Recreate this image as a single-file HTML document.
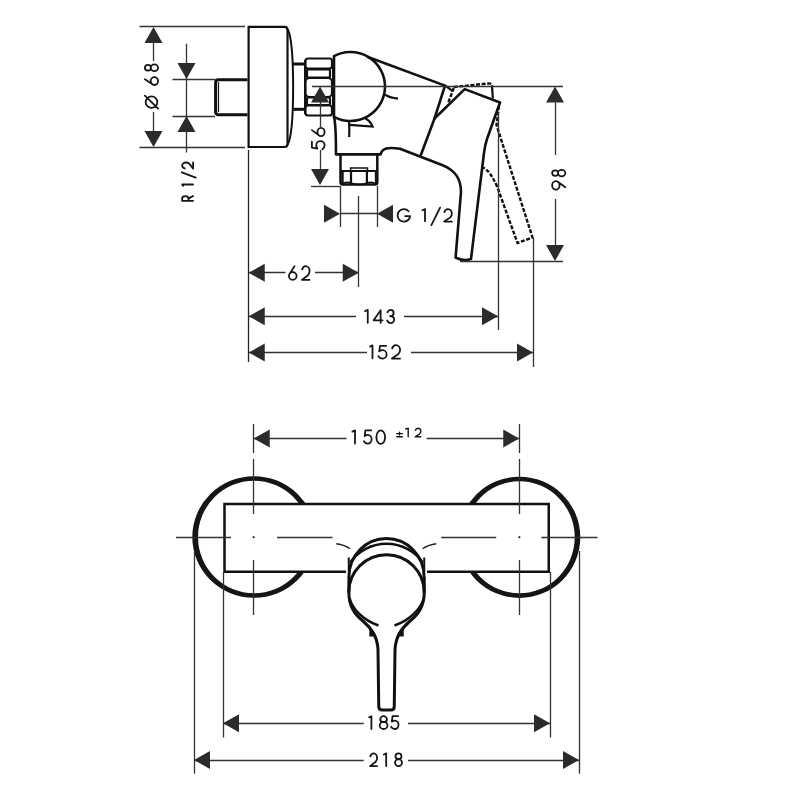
<!DOCTYPE html>
<html><head><meta charset="utf-8"><style>
html,body{margin:0;padding:0;background:#fff;}
svg{display:block;}
text{font-family:"Liberation Sans",sans-serif;}
</style></head><body>
<svg width="800" height="800" viewBox="0 0 800 800">
<rect width="800" height="800" fill="#fff"/>
<line x1="139.5" y1="26.5" x2="245" y2="26.5" stroke="#333" stroke-width="1.3" fill="none"/>
<line x1="139.5" y1="147.5" x2="245" y2="147.5" stroke="#333" stroke-width="1.3" fill="none"/>
<line x1="153.5" y1="43" x2="153.5" y2="61" stroke="#333" stroke-width="1.3" fill="none"/>
<line x1="153.5" y1="112" x2="153.5" y2="131" stroke="#333" stroke-width="1.3" fill="none"/>
<polygon points="153.50,27.00 144.50,43.00 162.50,43.00" fill="#2b2b2b"/>
<polygon points="153.50,147.00 144.50,131.00 162.50,131.00" fill="#2b2b2b"/>
<path d="M151.5,96.47C154.71,96.47 157.31,99.02 157.31,102.15C157.31,105.28 154.71,107.83 151.5,107.83C148.29,107.83 145.69,105.28 145.69,102.15C145.69,99.02 148.29,96.47 151.5,96.47M144.9,95.7L158.1,108.6M154.4,77.2C156.45,77.2 158.1,78.95 158.1,81.1C158.1,83.25 156.45,85 154.4,85C152.36,85 150.71,83.25 150.71,81.1C150.71,78.95 152.36,77.2 154.4,77.2M144.9,79.31L152.82,84.61M147.94,64.87C149.61,64.87 150.97,66.16 150.97,67.75C150.97,69.34 149.61,70.63 147.94,70.63C146.26,70.63 144.9,69.34 144.9,67.75C144.9,66.16 146.26,64.87 147.94,64.87M154.4,64.4C156.45,64.4 158.1,65.9 158.1,67.75C158.1,69.6 156.45,71.1 154.4,71.1C152.36,71.1 150.71,69.6 150.71,67.75C150.71,65.9 152.36,64.4 154.4,64.4" stroke="#161616" fill="none" stroke-linecap="round" stroke-linejoin="round" stroke-width="1.8"/>
<line x1="172.5" y1="79.5" x2="215" y2="79.5" stroke="#333" stroke-width="1.3" fill="none"/>
<line x1="172.5" y1="116.5" x2="215" y2="116.5" stroke="#333" stroke-width="1.3" fill="none"/>
<line x1="186.5" y1="43.75" x2="186.5" y2="152.5" stroke="#333" stroke-width="1.3" fill="none"/>
<polygon points="186.50,79.00 177.50,63.00 195.50,63.00" fill="#2b2b2b"/>
<polygon points="186.50,116.00 177.50,132.00 195.50,132.00" fill="#2b2b2b"/>
<path d="M193.1,200.85L182.15,200.85L182.15,198.62C182.15,196.99 183.68,196.15 185.44,196.15C187.19,196.15 188.5,196.99 188.5,198.62L188.5,200.85M188.5,198.62L193.1,195.9M183.14,185.85L182.15,184.5L193.1,184.5M181.8,172.3L195.7,177.6M184.78,168.42C182.92,167.87 182.15,166.77 182.15,165.55C182.15,163.84 183.9,162.5 186.09,162.5C187.41,162.5 188.39,162.99 189.38,163.72L193.1,168.6L193.1,162.5" stroke="#161616" fill="none" stroke-linecap="round" stroke-linejoin="round" stroke-width="1.8"/>
<path d="M248.6,26.8 H284.5 Q287.5,26.8 287.5,30 V144 Q287.5,147 284.5,147 H248.6 Z" stroke="#111" stroke-width="2.2" fill="none"/>
<path d="M287.5,29 C295,42 295,132 287.5,145" stroke="#111" stroke-width="2" fill="none"/>
<path d="M247.5,79.7 H218.5 Q215.6,79.7 215.6,82.6 V111.8 Q215.6,114.7 218.5,114.7 H247.5" stroke="#111" stroke-width="3" fill="none"/>
<line x1="218.5" y1="82" x2="218.5" y2="112" stroke="#111" stroke-width="1.2"/>
<line x1="248.5" y1="150" x2="248.5" y2="362" stroke="#222" stroke-width="1.3"/>
<line x1="293" y1="64" x2="305" y2="64" stroke="#111" stroke-width="3"/>
<line x1="293" y1="109.3" x2="305" y2="109.3" stroke="#111" stroke-width="3"/>
<rect x="305.5" y="58.5" width="26.5" height="10" rx="2.5" stroke="#111" stroke-width="2.2" fill="none"/>
<rect x="307" y="69.5" width="23" height="8" rx="1" stroke="#111" stroke-width="2.2" fill="none"/>
<rect x="305.5" y="78" width="26.5" height="19" rx="4" stroke="#111" stroke-width="2.2" fill="none"/>
<rect x="307" y="97.5" width="23" height="7.5" rx="1" stroke="#111" stroke-width="2.2" fill="none"/>
<rect x="305.5" y="105.5" width="26.5" height="10" rx="2.5" stroke="#111" stroke-width="2.2" fill="none"/>
<line x1="305" y1="60" x2="305" y2="114" stroke="#111" stroke-width="2"/>
<line x1="333" y1="60" x2="333" y2="114" stroke="#111" stroke-width="2"/>
<path d="M334,56.2 A34.5,34.5 0 1 1 334,116.8 Z" stroke="#111" stroke-width="2.6" fill="none" stroke-linecap="round" stroke-linejoin="round"/>
<path d="M368,57 L445,85.6 L434.5,118.5 L420.5,156" stroke="#111" stroke-width="2.6" fill="none" stroke-linecap="round" stroke-linejoin="round"/>
<path d="M385.3,94.6 Q389,97.6 398,98.6" stroke="#111" stroke-width="2.2" fill="none"/>
<path d="M349.4,124.8 L372.6,126.6 Q370.5,121 365.2,118.3" stroke="#111" stroke-width="2.2" fill="none"/>
<path d="M349,121.5 Q349.6,129 349.2,137" stroke="#111" stroke-width="2.2" fill="none"/>
<path d="M334,116.8 Q336,125 336,154.4 H380.6 C382,148 388,147 400,148.75 L442,165 C455,170 461,178 461,192 L455.6,257.5 Q463,261.5 471,259 L484,153 Q485,145 487,139 L500,102.5 L464.7,89.1 L434.5,118.5" stroke="#111" stroke-width="2.6" fill="none" stroke-linecap="round" stroke-linejoin="round"/>
<path d="M453.75,87 L489,83.4 Q492,83.4 492,86" stroke="#111" stroke-width="2.4" fill="none" stroke-dasharray="4,1.6"/>
<line x1="492" y1="86" x2="492.8" y2="98.5" stroke="#111" stroke-width="2.2"/>
<line x1="445" y1="85.4" x2="452.5" y2="91" stroke="#111" stroke-width="2.2"/>
<path d="M453.8,88 L448.1,103" stroke="#111" stroke-width="2.4" fill="none" stroke-dasharray="4,1.6"/>
<path d="M499,106 L496.5,125 L532.5,237.5 L517.5,243 L497.5,187.5 C492,175 488,170 483,167.5" stroke="#111" stroke-width="2.4" fill="none" stroke-dasharray="4,1.6"/>
<path d="M340.5,155 V182 Q340.5,184.6 343,184.6 H375 Q377.3,184.6 377.3,182 V155" stroke="#111" stroke-width="2.5" fill="none"/>
<line x1="340" y1="171" x2="378" y2="171" stroke="#111" stroke-width="2"/>
<rect x="350.6" y="168" width="16.9" height="3" fill="none" stroke="#111" stroke-width="1.5"/>
<line x1="342.6" y1="171" x2="342.6" y2="184" stroke="#111" stroke-width="2.2"/>
<line x1="351" y1="171" x2="351" y2="184" stroke="#111" stroke-width="2.2"/>
<line x1="366.9" y1="171" x2="366.9" y2="184" stroke="#111" stroke-width="2.2"/>
<line x1="375.5" y1="171" x2="375.5" y2="184" stroke="#111" stroke-width="1.3"/>
<path d="M343,183.5 Q347,181.5 351,183 Q359,186.5 367,183 Q371,181.5 375,183.5" stroke="#111" stroke-width="1.6" fill="none"/>
<line x1="312" y1="86.5" x2="563" y2="86.5" stroke="#333" stroke-width="1.3" fill="none"/>
<line x1="311" y1="186.5" x2="340" y2="186.5" stroke="#333" stroke-width="1.3" fill="none"/>
<line x1="460" y1="261.5" x2="563" y2="261.5" stroke="#333" stroke-width="1.3" fill="none"/>
<line x1="340.5" y1="186" x2="340.5" y2="227" stroke="#333" stroke-width="1.3" fill="none"/>
<line x1="377.5" y1="186" x2="377.5" y2="227" stroke="#333" stroke-width="1.3" fill="none"/>
<line x1="358.5" y1="196" x2="358.5" y2="287" stroke="#333" stroke-width="1.3" fill="none"/>
<line x1="498.5" y1="113" x2="498.5" y2="330" stroke="#333" stroke-width="1.3" fill="none"/>
<line x1="533.5" y1="238" x2="533.5" y2="367" stroke="#333" stroke-width="1.3" fill="none"/>
<line x1="320.5" y1="102" x2="320.5" y2="127" stroke="#333" stroke-width="1.3" fill="none"/>
<line x1="320.5" y1="150" x2="320.5" y2="170" stroke="#333" stroke-width="1.3" fill="none"/>
<polygon points="320.00,86.50 311.00,102.50 329.00,102.50" fill="#2b2b2b"/>
<polygon points="320.00,185.00 311.00,169.00 329.00,169.00" fill="#2b2b2b"/>
<path d="M311.9,141.64L311.9,147.71L317.36,148.53C316.6,147.55 316.22,146.4 316.22,145.25C316.22,142.79 318.38,141.15 320.41,141.15C322.82,141.15 324.6,142.95 324.6,145.25C324.6,147.05 323.58,148.53 322.31,149.35M321.04,127.9C323.01,127.9 324.6,129.74 324.6,132C324.6,134.26 323.01,136.1 321.04,136.1C319.08,136.1 317.49,134.26 317.49,132C317.49,129.74 319.08,127.9 321.04,127.9M311.9,130.11L319.52,135.69" stroke="#161616" fill="none" stroke-linecap="round" stroke-linejoin="round" stroke-width="1.8"/>
<line x1="340" y1="213.5" x2="377" y2="213.5" stroke="#333" stroke-width="1.3" fill="none"/>
<polygon points="340.00,213.75 324.00,204.75 324.00,222.75" fill="#2b2b2b"/>
<polygon points="377.00,213.75 393.00,204.75 393.00,222.75" fill="#2b2b2b"/>
<path d="M408.61,211.27C407.49,209.96 405.74,209.15 403.88,209.15C400.39,209.15 397.65,211.89 397.65,215.38C397.65,218.86 400.39,221.6 403.88,221.6C407.11,221.6 409.85,219.11 410.1,216.12L405.12,216.12M422.4,210.25L425,209.15L425,221.35M440.1,207.65L431.4,225.1M444.38,212.14C445.07,210.02 446.46,209.15 448,209.15C450.16,209.15 451.85,211.14 451.85,213.63C451.85,215.13 451.23,216.25 450.31,217.37L444.15,221.6L451.85,221.6" stroke="#161616" fill="none" stroke-linecap="round" stroke-linejoin="round" stroke-width="1.8"/>
<line x1="248.75" y1="272.5" x2="285.5" y2="272.5" stroke="#333" stroke-width="1.3" fill="none"/>
<line x1="315" y1="272.5" x2="358.75" y2="272.5" stroke="#333" stroke-width="1.3" fill="none"/>
<polygon points="248.75,272.80 264.75,263.80 264.75,281.80" fill="#2b2b2b"/>
<polygon points="358.75,272.80 342.75,263.80 342.75,281.80" fill="#2b2b2b"/>
<path d="M296.6,276.01C296.6,278.13 294.88,279.85 292.75,279.85C290.62,279.85 288.9,278.13 288.9,276.01C288.9,273.9 290.62,272.18 292.75,272.18C294.88,272.18 296.6,273.9 296.6,276.01M294.52,266.15L289.28,274.37M302.13,269.44C302.82,267.11 304.21,266.15 305.75,266.15C307.91,266.15 309.6,268.34 309.6,271.08C309.6,272.73 308.98,273.96 308.06,275.19L301.9,279.85L309.6,279.85" stroke="#161616" fill="none" stroke-linecap="round" stroke-linejoin="round" stroke-width="1.8"/>
<line x1="248.75" y1="316.5" x2="356" y2="316.5" stroke="#333" stroke-width="1.3" fill="none"/>
<line x1="404" y1="316.5" x2="498" y2="316.5" stroke="#333" stroke-width="1.3" fill="none"/>
<polygon points="248.75,316.25 264.75,307.25 264.75,325.25" fill="#2b2b2b"/>
<polygon points="498.00,316.25 482.00,307.25 482.00,325.25" fill="#2b2b2b"/>
<path d="M365.15,311.07L367.75,309.9L367.75,322.85M380.63,322.85L380.63,310.15L373.65,320.31L382.6,320.31M387.43,312.28C388.12,310.69 389.24,309.9 390.49,309.9C392.43,309.9 393.61,311.48 393.61,313.2C393.61,314.92 392.43,316.1 390.07,316.1C392.71,316.1 394.1,317.82 394.1,319.54C394.1,321.52 392.57,323.1 390.62,323.1C389.1,323.1 387.84,322.04 387.15,320.46" stroke="#161616" fill="none" stroke-linecap="round" stroke-linejoin="round" stroke-width="1.8"/>
<line x1="248.75" y1="352.5" x2="367" y2="352.5" stroke="#333" stroke-width="1.3" fill="none"/>
<line x1="411" y1="352.5" x2="533" y2="352.5" stroke="#333" stroke-width="1.3" fill="none"/>
<polygon points="248.75,352.50 264.75,343.50 264.75,361.50" fill="#2b2b2b"/>
<polygon points="533.00,352.50 517.00,343.50 517.00,361.50" fill="#2b2b2b"/>
<path d="M370.15,346.57L372.5,345.4L372.5,358.35M386.11,345.9L380.04,345.9L379.22,351.36C380.2,350.6 381.35,350.22 382.5,350.22C384.96,350.22 386.6,352.38 386.6,354.41C386.6,356.82 384.8,358.6 382.5,358.6C380.7,358.6 379.22,357.58 378.4,356.31M392.15,348.38C392.88,346.09 394.36,345.15 396,345.15C398.3,345.15 400.1,347.3 400.1,349.99C400.1,351.61 399.44,352.82 398.46,354.03L391.9,358.6L400.1,358.6" stroke="#161616" fill="none" stroke-linecap="round" stroke-linejoin="round" stroke-width="1.8"/>
<line x1="555.5" y1="102.5" x2="555.5" y2="155" stroke="#333" stroke-width="1.3" fill="none"/>
<line x1="555.5" y1="199" x2="555.5" y2="245" stroke="#333" stroke-width="1.3" fill="none"/>
<polygon points="555.00,86.60 546.00,102.60 564.00,102.60" fill="#2b2b2b"/>
<polygon points="555.00,261.00 546.00,245.00 564.00,245.00" fill="#2b2b2b"/>
<path d="M555.85,181.15C557.89,181.15 559.54,183.04 559.54,185.38C559.54,187.71 557.89,189.6 555.85,189.6C553.8,189.6 552.15,187.71 552.15,185.38C552.15,183.04 553.8,181.15 555.85,181.15M557.43,181.57L565.35,187.32M555.19,170.35C556.86,170.35 558.22,171.59 558.22,173.12C558.22,174.66 556.86,175.9 555.19,175.9C553.51,175.9 552.15,174.66 552.15,173.12C552.15,171.59 553.51,170.35 555.19,170.35M561.65,169.9C563.7,169.9 565.35,171.34 565.35,173.12C565.35,174.91 563.7,176.35 561.65,176.35C559.61,176.35 557.96,174.91 557.96,173.12C557.96,171.34 559.61,169.9 561.65,169.9" stroke="#161616" fill="none" stroke-linecap="round" stroke-linejoin="round" stroke-width="1.8"/>
<path d="M192.3,537 A61.7,60.8 0 1 0 315.7,537 A61.7,60.8 0 1 0 192.3,537 Z M198.0,537 A56.0,56.2 0 1 0 310.0,537 A56.0,56.2 0 1 0 198.0,537 Z" fill="#151515" fill-rule="evenodd"/>
<path d="M458.5,537.3 A60.9,60.6 0 1 0 580.3,537.3 A60.9,60.6 0 1 0 458.5,537.3 Z M464.09999999999997,537.3 A55.3,56.0 0 1 0 574.6999999999999,537.3 A55.3,56.0 0 1 0 464.09999999999997,537.3 Z" fill="#151515" fill-rule="evenodd"/>
<rect x="224.5" y="504" width="324.25" height="67.75" fill="#fff" stroke="#111" stroke-width="2.5"/>
<line x1="253.5" y1="424" x2="253.5" y2="453" stroke="#333" stroke-width="1.3"/>
<line x1="253.5" y1="459" x2="253.5" y2="514" stroke="#333" stroke-width="1.3"/>
<line x1="253.5" y1="536" x2="253.5" y2="538" stroke="#333" stroke-width="1.3"/>
<line x1="253.5" y1="560" x2="253.5" y2="615" stroke="#333" stroke-width="1.3"/>
<line x1="519.5" y1="424" x2="519.5" y2="453" stroke="#333" stroke-width="1.3"/>
<line x1="519.5" y1="459" x2="519.5" y2="514" stroke="#333" stroke-width="1.3"/>
<line x1="519.5" y1="536" x2="519.5" y2="538" stroke="#333" stroke-width="1.3"/>
<line x1="519.5" y1="560" x2="519.5" y2="615" stroke="#333" stroke-width="1.3"/>
<line x1="176" y1="537.5" x2="231" y2="537.5" stroke="#333" stroke-width="1.3"/>
<line x1="252.75" y1="537.5" x2="254.75" y2="537.5" stroke="#333" stroke-width="1.3"/>
<line x1="277" y1="537.5" x2="332.5" y2="537.5" stroke="#333" stroke-width="1.3"/>
<line x1="441.25" y1="537.5" x2="496.25" y2="537.5" stroke="#333" stroke-width="1.3"/>
<line x1="518.25" y1="537.5" x2="520.25" y2="537.5" stroke="#333" stroke-width="1.3"/>
<line x1="541.25" y1="537.5" x2="597.5" y2="537.5" stroke="#333" stroke-width="1.3"/>
<line x1="253.75" y1="438.5" x2="346.6" y2="438.5" stroke="#333" stroke-width="1.3" fill="none"/>
<line x1="426.6" y1="438.5" x2="519.25" y2="438.5" stroke="#333" stroke-width="1.3" fill="none"/>
<polygon points="253.75,438.50 269.75,429.50 269.75,447.50" fill="#2b2b2b"/>
<polygon points="519.25,438.50 503.25,429.50 503.25,447.50" fill="#2b2b2b"/>
<path d="M352.4,431.59L355,430.4L355,443.6M371.14,430.4L365.44,430.4L364.67,436.08C365.59,435.28 366.67,434.89 367.75,434.89C370.06,434.89 371.6,437.13 371.6,439.24C371.6,441.75 369.91,443.6 367.75,443.6C366.06,443.6 364.67,442.54 363.9,441.22M385.1,437.15C385.1,440.88 383.15,443.9 380.75,443.9C378.35,443.9 376.4,440.88 376.4,437.15C376.4,433.42 378.35,430.4 380.75,430.4C383.15,430.4 385.1,433.42 385.1,437.15" stroke="#161616" fill="none" stroke-linecap="round" stroke-linejoin="round" stroke-width="1.8"/>
<path d="M399.5,432.2L399.5,435.05M396.7,433.63L402.3,433.63M396.7,436.8L402.3,436.8M405.7,428.97L408.2,428.2L408.2,436.8M415.37,430.26C415.87,428.8 416.88,428.2 418,428.2C419.57,428.2 420.8,429.58 420.8,431.3C420.8,432.33 420.35,433.1 419.68,433.88L415.2,436.8L420.8,436.8" stroke="#161616" fill="none" stroke-linecap="round" stroke-linejoin="round" stroke-width="1.4"/>
<line x1="194.5" y1="551" x2="194.5" y2="773.75" stroke="#333" stroke-width="1.3" fill="none"/>
<line x1="223.5" y1="572" x2="223.5" y2="737.5" stroke="#333" stroke-width="1.3" fill="none"/>
<line x1="550.5" y1="572" x2="550.5" y2="737.5" stroke="#333" stroke-width="1.3" fill="none"/>
<line x1="579.5" y1="551" x2="579.5" y2="773.75" stroke="#333" stroke-width="1.3" fill="none"/>
<line x1="223" y1="723.5" x2="363.75" y2="723.5" stroke="#333" stroke-width="1.3" fill="none"/>
<line x1="408" y1="723.5" x2="550" y2="723.5" stroke="#333" stroke-width="1.3" fill="none"/>
<polygon points="223.00,723.25 239.00,714.25 239.00,732.25" fill="#2b2b2b"/>
<polygon points="550.00,723.25 534.00,714.25 534.00,732.25" fill="#2b2b2b"/>
<path d="M369.2,717.35L371.4,716.2L371.4,729M386.95,719.14C386.95,720.77 385.45,722.09 383.6,722.09C381.75,722.09 380.25,720.77 380.25,719.14C380.25,717.52 381.75,716.2 383.6,716.2C385.45,716.2 386.95,717.52 386.95,719.14M387.5,725.42C387.5,727.4 385.75,729 383.6,729C381.45,729 379.7,727.4 379.7,725.42C379.7,723.44 381.45,721.83 383.6,721.83C385.75,721.83 387.5,723.44 387.5,725.42M398.06,716.2L392.58,716.2L391.84,721.7C392.73,720.94 393.76,720.55 394.8,720.55C397.02,720.55 398.5,722.73 398.5,724.78C398.5,727.21 396.87,729 394.8,729C393.17,729 391.84,727.98 391.1,726.7" stroke="#161616" fill="none" stroke-linecap="round" stroke-linejoin="round" stroke-width="1.8"/>
<line x1="194" y1="760.5" x2="363.75" y2="760.5" stroke="#333" stroke-width="1.3" fill="none"/>
<line x1="408" y1="760.5" x2="579" y2="760.5" stroke="#333" stroke-width="1.3" fill="none"/>
<polygon points="194.00,760.00 210.00,751.00 210.00,769.00" fill="#2b2b2b"/>
<polygon points="579.00,760.00 563.00,751.00 563.00,769.00" fill="#2b2b2b"/>
<path d="M370.31,756.45C370.94,754.29 372.2,753.4 373.6,753.4C375.56,753.4 377.1,755.43 377.1,757.97C377.1,759.5 376.54,760.64 375.7,761.78L370.1,766.1L377.1,766.1M383.9,754.54L386.2,753.4L386.2,766.1M401.51,756.32C401.51,757.93 400.16,759.24 398.5,759.24C396.84,759.24 395.49,757.93 395.49,756.32C395.49,754.71 396.84,753.4 398.5,753.4C400.16,753.4 401.51,754.71 401.51,756.32M402,762.54C402,764.51 400.43,766.1 398.5,766.1C396.57,766.1 395,764.51 395,762.54C395,760.58 396.57,758.99 398.5,758.99C400.43,758.99 402,760.58 402,762.54" stroke="#161616" fill="none" stroke-linecap="round" stroke-linejoin="round" stroke-width="1.8"/>
<rect x="346" y="560" width="81" height="14" fill="#fff"/>
<path d="M348.9,577 A37.6,38.5 0 0 1 424.1,577" stroke="#111" stroke-width="3" fill="none"/>
<path d="M350.5,562 A44.6,44.6 0 0 1 422.5,562" stroke="#111" stroke-width="2.6" fill="none"/>
<path d="M348.75,592.5 A37.75,37.75 0 0 1 424.25,592.5" stroke="#111" stroke-width="3" fill="none"/>
<path d="M348.9,577 V592.5 C348.75,606 355,615 363,621 C371,628 377.5,636 378,650 L378.75,706.5 Q378.9,710 382,710 H391 Q394.25,710 394.25,706.5 L395,650 C395.5,636 402,628 410,621 C418,615 424.25,606 424.25,592.5 V577" stroke="#111" stroke-width="3" fill="none"/>
<path d="M349.5,598 C352,608 362,620 378.5,625.5" stroke="#111" stroke-width="2.6" fill="none"/>
<path d="M424,598 C421,608 411,620 394.5,625.5" stroke="#111" stroke-width="2.6" fill="none"/>
<polygon points="369.3,629.5 372.5,629.5 375,636.5 369.3,636.5" fill="#111"/>
<polygon points="403.7,629.5 400.5,629.5 398,636.5 403.7,636.5" fill="#111"/>
<line x1="348.75" y1="557.5" x2="348.75" y2="571.5" stroke="#111" stroke-width="2"/>
<line x1="424.25" y1="557.5" x2="424.25" y2="571.5" stroke="#111" stroke-width="2"/>
<path d="M336.25,543.75 Q345,545 350,548.75" stroke="#222" stroke-width="1.3" fill="none"/>
<path d="M422.5,548.75 Q428,545 436.25,543.75" stroke="#222" stroke-width="1.3" fill="none"/>
</svg></body></html>
